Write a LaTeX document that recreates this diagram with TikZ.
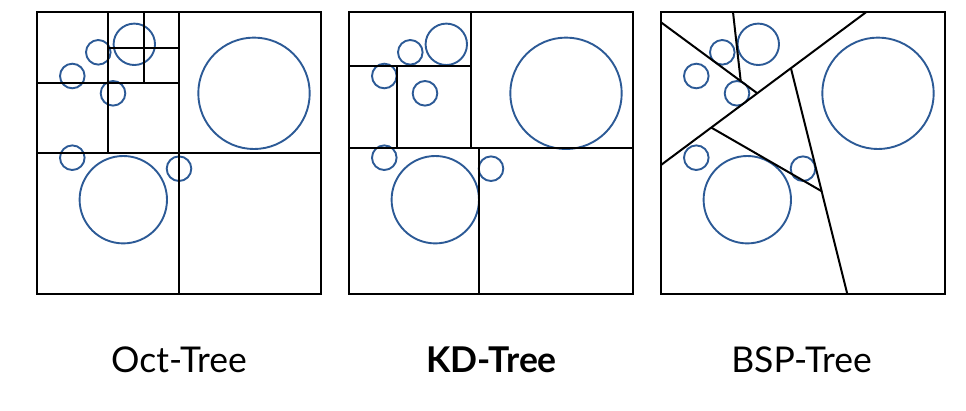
\documentclass[tikz,border=0pt]{standalone}
\usepackage{fontspec}
\setmainfont{Lato}
\definecolor{circblue}{RGB}{44,90,150}
\tikzset{
  frame/.style={draw=black,line width=2.2pt},
  split/.style={draw=black,line width=2pt},
  ball/.style={draw=circblue,line width=1.9pt},
  caption/.style={font=\fontsize{35.5}{40}\selectfont,anchor=base,inner sep=0pt}
}
\begin{document}
\begin{tikzpicture}[x=1pt,y=-1pt]
\useasboundingbox (0,0) rectangle (966,410);
% circles (same in every panel)
\foreach \dx in {0,312,624}{
  \begin{scope}[xshift=\dx]
    \draw[ball] (98.3,52.3) circle[radius=12.3];
    \draw[ball] (134.3,44.3) circle[radius=20.7];
    \draw[ball] (72.3,76) circle[radius=12.3];
    \draw[ball] (113,93.3) circle[radius=12.3];
    \draw[ball] (72.3,157.7) circle[radius=12.3];
    \draw[ball] (123.3,199.7) circle[radius=43.7];
    \draw[ball] (179,168.7) circle[radius=12.3];
    \draw[ball] (254,93.3) circle[radius=55.7];
  \end{scope}
}
% Oct-tree
\coordinate (o1) at (37,12);
\coordinate (o2) at (321,294);
\draw[split] (179,12) -- (179,294);
\draw[split] (37,153) -- (321,153);
\draw[split] (108.3,12) -- (108.3,153);
\draw[split] (37,83.3) -- (179,83.3);
\draw[split] (143.7,12) -- (143.7,83.3);
\draw[split] (108.3,47.7) -- (179,47.7);
\draw[frame] (o1) rectangle (o2);
% KD-tree
\coordinate (k1) at (349,12);
\coordinate (k2) at (633,294);
\draw[split] (349,147.7) -- (633,147.7);
\draw[split] (471.3,12) -- (471.3,147.7);
\draw[split] (349,65.7) -- (471.3,65.7);
\draw[split] (397.3,65.7) -- (397.3,147.7);
\draw[split] (479.3,147.7) -- (479.3,294);
\draw[frame] (k1) rectangle (k2);
% BSP-tree
\coordinate (b1) at (661,12);
\coordinate (b2) at (945,294);
\coordinate (cA) at (661,165);
\coordinate (cB) at (866.3,12);
\draw[split] (cA) -- (cB);
\coordinate (bB1) at (661,22.3);
\coordinate (bB2) at (757.3,93.3);
\draw[split] (bB1) -- (bB2);
\coordinate (bA1) at (733,12);
\coordinate (bA2) at (740.7,81);
\draw[split] (bA1) -- (bA2);
\coordinate (bD1) at (791,68.5);
\coordinate (bD2) at (847.3,294);
\draw[split] (bD1) -- (bD2);
\coordinate (bE1) at (711.3,127.6);
\coordinate (bE2) at (821.3,191);
\draw[split] (bE1) -- (bE2);
\draw[frame] (b1) rectangle (b2);
% captions
\node[caption] (t1) at (179,372) {Oct-Tree};
\node[caption] (t2) at (491.5,372) {\bfseries KD-Tree};
\node[caption] (t3) at (801.5,372) {BSP-Tree};
\end{tikzpicture}
\end{document}
